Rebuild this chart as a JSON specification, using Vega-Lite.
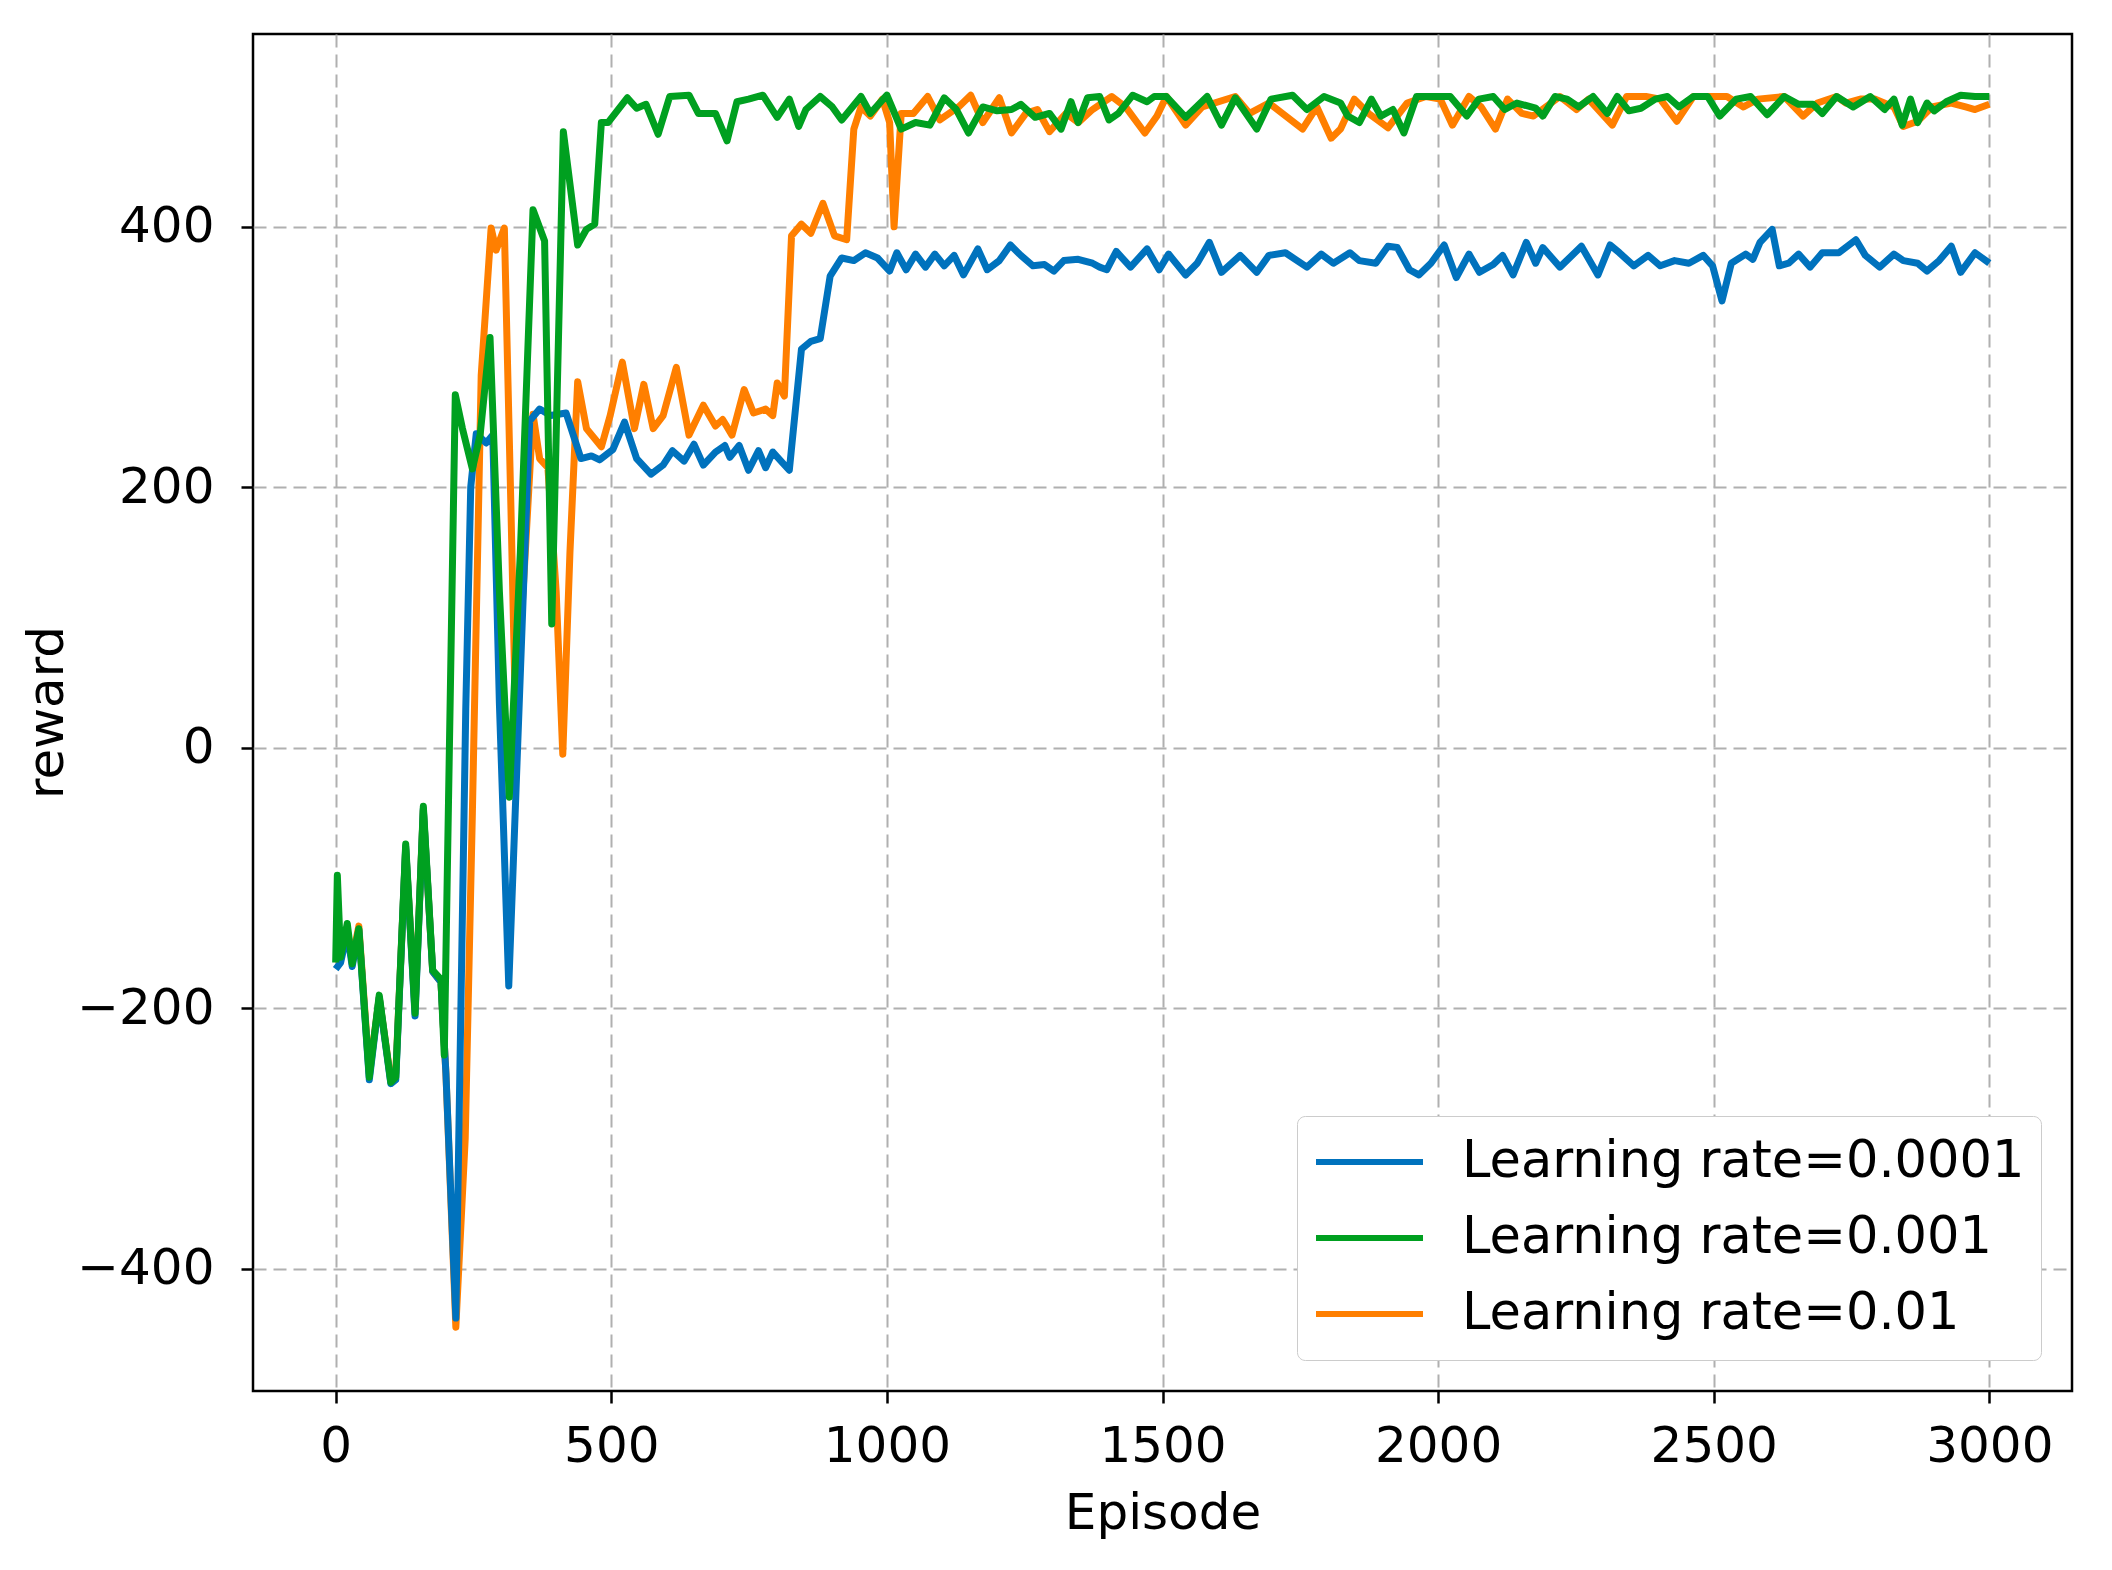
{
  "$schema": "https://vega.github.io/schema/vega-lite/v6.json",
  "width": 1819,
  "height": 1357,
  "autosize": {"type": "none"},
  "padding": {"left": 253, "top": 34, "right": 40, "bottom": 179},
  "background": "white",
  "config": {
    "view": {"stroke": "black", "strokeWidth": 2.5},
    "font": "DejaVu Sans",
    "axis": {
      "domain": false,
      "grid": true,
      "gridColor": "#b0b0b0",
      "gridDash": [13, 7],
      "gridWidth": 2,
      "ticks": true,
      "tickColor": "black",
      "tickWidth": 2.5,
      "tickSize": 12,
      "labelFont": "DejaVu Sans",
      "labelFontSize": 50,
      "labelColor": "black",
      "titleFont": "DejaVu Sans",
      "titleFontSize": 50,
      "titleFontWeight": "normal",
      "titleColor": "black"
    }
  },
  "datasets": {
    "lr0001": [
      {"e": 0, "r": -170}, {"e": 9, "r": -165}, {"e": 21, "r": -142}, {"e": 30, "r": -168}, {"e": 42, "r": -140},
      {"e": 61, "r": -255}, {"e": 79, "r": -192}, {"e": 100, "r": -258}, {"e": 109, "r": -255}, {"e": 127, "r": -76},
      {"e": 144, "r": -206}, {"e": 159, "r": -47}, {"e": 176, "r": -172}, {"e": 191, "r": -180}, {"e": 200, "r": -250},
      {"e": 218, "r": -438}, {"e": 236, "r": 30}, {"e": 245, "r": 200}, {"e": 255, "r": 241}, {"e": 273, "r": 234},
      {"e": 285, "r": 240}, {"e": 297, "r": 34}, {"e": 314, "r": -183}, {"e": 333, "r": 34}, {"e": 352, "r": 251},
      {"e": 370, "r": 260}, {"e": 390, "r": 255}, {"e": 418, "r": 257}, {"e": 445, "r": 222}, {"e": 464, "r": 224},
      {"e": 479, "r": 221}, {"e": 503, "r": 229}, {"e": 524, "r": 250}, {"e": 546, "r": 222}, {"e": 572, "r": 210},
      {"e": 594, "r": 217}, {"e": 611, "r": 228}, {"e": 632, "r": 220}, {"e": 650, "r": 233}, {"e": 667, "r": 217},
      {"e": 689, "r": 227}, {"e": 706, "r": 232}, {"e": 715, "r": 223}, {"e": 732, "r": 232}, {"e": 749, "r": 213},
      {"e": 767, "r": 228}, {"e": 780, "r": 215}, {"e": 793, "r": 227}, {"e": 823, "r": 213}, {"e": 845, "r": 306},
      {"e": 862, "r": 312}, {"e": 879, "r": 314}, {"e": 897, "r": 362}, {"e": 918, "r": 376}, {"e": 940, "r": 374},
      {"e": 961, "r": 380}, {"e": 983, "r": 376}, {"e": 1005, "r": 366}, {"e": 1018, "r": 380}, {"e": 1035, "r": 367},
      {"e": 1052, "r": 379}, {"e": 1070, "r": 369}, {"e": 1087, "r": 379}, {"e": 1104, "r": 370}, {"e": 1122, "r": 378},
      {"e": 1139, "r": 363}, {"e": 1165, "r": 383}, {"e": 1182, "r": 367}, {"e": 1204, "r": 374}, {"e": 1224, "r": 386},
      {"e": 1243, "r": 378}, {"e": 1265, "r": 370}, {"e": 1286, "r": 371}, {"e": 1303, "r": 366}, {"e": 1321, "r": 374},
      {"e": 1347, "r": 375}, {"e": 1373, "r": 372}, {"e": 1386, "r": 369}, {"e": 1399, "r": 367}, {"e": 1416, "r": 381},
      {"e": 1442, "r": 369}, {"e": 1472, "r": 383}, {"e": 1494, "r": 367}, {"e": 1511, "r": 379}, {"e": 1542, "r": 363},
      {"e": 1563, "r": 372}, {"e": 1585, "r": 388}, {"e": 1607, "r": 365}, {"e": 1641, "r": 378}, {"e": 1671, "r": 365},
      {"e": 1693, "r": 378}, {"e": 1723, "r": 380}, {"e": 1762, "r": 369}, {"e": 1788, "r": 379}, {"e": 1810, "r": 372},
      {"e": 1840, "r": 380}, {"e": 1857, "r": 374}, {"e": 1887, "r": 372}, {"e": 1909, "r": 385}, {"e": 1926, "r": 384},
      {"e": 1948, "r": 367}, {"e": 1965, "r": 363}, {"e": 1987, "r": 372}, {"e": 2011, "r": 386}, {"e": 2033, "r": 361},
      {"e": 2056, "r": 379}, {"e": 2075, "r": 365}, {"e": 2100, "r": 371}, {"e": 2117, "r": 378}, {"e": 2136, "r": 363},
      {"e": 2160, "r": 388}, {"e": 2177, "r": 372}, {"e": 2190, "r": 384}, {"e": 2221, "r": 369}, {"e": 2260, "r": 385},
      {"e": 2290, "r": 363}, {"e": 2312, "r": 386}, {"e": 2329, "r": 380}, {"e": 2355, "r": 370}, {"e": 2381, "r": 378},
      {"e": 2403, "r": 370}, {"e": 2429, "r": 374}, {"e": 2455, "r": 372}, {"e": 2481, "r": 378}, {"e": 2498, "r": 370},
      {"e": 2515, "r": 343}, {"e": 2532, "r": 372}, {"e": 2558, "r": 379}, {"e": 2571, "r": 375}, {"e": 2584, "r": 388},
      {"e": 2606, "r": 398}, {"e": 2619, "r": 370}, {"e": 2636, "r": 372}, {"e": 2654, "r": 379}, {"e": 2675, "r": 369},
      {"e": 2697, "r": 380}, {"e": 2727, "r": 380}, {"e": 2758, "r": 390}, {"e": 2775, "r": 378}, {"e": 2801, "r": 369},
      {"e": 2827, "r": 379}, {"e": 2844, "r": 374}, {"e": 2870, "r": 372}, {"e": 2887, "r": 366}, {"e": 2909, "r": 374},
      {"e": 2931, "r": 385}, {"e": 2948, "r": 365}, {"e": 2974, "r": 380}, {"e": 3000, "r": 372}
    ],
    "lr001": [
      {"e": 0, "r": -165}, {"e": 3, "r": -98}, {"e": 9, "r": -161}, {"e": 21, "r": -135}, {"e": 30, "r": -166},
      {"e": 42, "r": -139}, {"e": 61, "r": -253}, {"e": 79, "r": -190}, {"e": 100, "r": -257}, {"e": 109, "r": -253},
      {"e": 127, "r": -74}, {"e": 144, "r": -204}, {"e": 159, "r": -45}, {"e": 176, "r": -171}, {"e": 191, "r": -178},
      {"e": 197, "r": -236}, {"e": 217, "r": 271}, {"e": 230, "r": 245}, {"e": 248, "r": 214}, {"e": 262, "r": 240},
      {"e": 280, "r": 315}, {"e": 297, "r": 120}, {"e": 315, "r": -38}, {"e": 335, "r": 150}, {"e": 358, "r": 413},
      {"e": 379, "r": 389}, {"e": 392, "r": 95}, {"e": 413, "r": 473}, {"e": 439, "r": 386}, {"e": 455, "r": 398},
      {"e": 470, "r": 402}, {"e": 482, "r": 480}, {"e": 494, "r": 480}, {"e": 529, "r": 499}, {"e": 546, "r": 491},
      {"e": 563, "r": 494}, {"e": 585, "r": 471}, {"e": 606, "r": 500}, {"e": 641, "r": 501}, {"e": 658, "r": 487},
      {"e": 689, "r": 487}, {"e": 710, "r": 466}, {"e": 728, "r": 496}, {"e": 749, "r": 498}, {"e": 775, "r": 501},
      {"e": 801, "r": 484}, {"e": 823, "r": 498}, {"e": 840, "r": 477}, {"e": 853, "r": 490}, {"e": 879, "r": 500},
      {"e": 901, "r": 492}, {"e": 918, "r": 482}, {"e": 953, "r": 500}, {"e": 970, "r": 487}, {"e": 1000, "r": 501},
      {"e": 1026, "r": 475}, {"e": 1052, "r": 480}, {"e": 1078, "r": 478}, {"e": 1104, "r": 499}, {"e": 1126, "r": 490},
      {"e": 1148, "r": 472}, {"e": 1174, "r": 492}, {"e": 1200, "r": 489}, {"e": 1226, "r": 490}, {"e": 1243, "r": 494},
      {"e": 1269, "r": 484}, {"e": 1295, "r": 487}, {"e": 1316, "r": 475}, {"e": 1334, "r": 496}, {"e": 1347, "r": 480},
      {"e": 1364, "r": 499}, {"e": 1386, "r": 500}, {"e": 1403, "r": 482}, {"e": 1420, "r": 487}, {"e": 1446, "r": 501},
      {"e": 1472, "r": 496}, {"e": 1485, "r": 500}, {"e": 1507, "r": 500}, {"e": 1542, "r": 484}, {"e": 1581, "r": 500},
      {"e": 1607, "r": 478}, {"e": 1632, "r": 499}, {"e": 1671, "r": 475}, {"e": 1697, "r": 498}, {"e": 1736, "r": 501},
      {"e": 1762, "r": 490}, {"e": 1793, "r": 500}, {"e": 1823, "r": 495}, {"e": 1836, "r": 485}, {"e": 1857, "r": 480},
      {"e": 1879, "r": 498}, {"e": 1896, "r": 485}, {"e": 1918, "r": 490}, {"e": 1938, "r": 472}, {"e": 1961, "r": 500},
      {"e": 1996, "r": 500}, {"e": 2022, "r": 500}, {"e": 2052, "r": 485}, {"e": 2074, "r": 498}, {"e": 2100, "r": 500},
      {"e": 2121, "r": 490}, {"e": 2143, "r": 495}, {"e": 2177, "r": 491}, {"e": 2190, "r": 485}, {"e": 2212, "r": 500},
      {"e": 2234, "r": 498}, {"e": 2255, "r": 492}, {"e": 2281, "r": 500}, {"e": 2307, "r": 487}, {"e": 2325, "r": 500},
      {"e": 2346, "r": 489}, {"e": 2368, "r": 491}, {"e": 2394, "r": 498}, {"e": 2416, "r": 500}, {"e": 2437, "r": 492},
      {"e": 2463, "r": 500}, {"e": 2489, "r": 500}, {"e": 2511, "r": 485}, {"e": 2541, "r": 498}, {"e": 2567, "r": 500},
      {"e": 2597, "r": 486}, {"e": 2628, "r": 500}, {"e": 2654, "r": 494}, {"e": 2680, "r": 494}, {"e": 2697, "r": 487},
      {"e": 2723, "r": 500}, {"e": 2753, "r": 492}, {"e": 2784, "r": 500}, {"e": 2810, "r": 490}, {"e": 2827, "r": 498},
      {"e": 2842, "r": 478}, {"e": 2857, "r": 498}, {"e": 2870, "r": 480}, {"e": 2887, "r": 495}, {"e": 2900, "r": 489},
      {"e": 2922, "r": 496}, {"e": 2948, "r": 501}, {"e": 2974, "r": 500}, {"e": 3000, "r": 500}
    ],
    "lr01": [
      {"e": 0, "r": -165}, {"e": 9, "r": -160}, {"e": 21, "r": -140}, {"e": 30, "r": -162}, {"e": 42, "r": -137},
      {"e": 61, "r": -250}, {"e": 79, "r": -192}, {"e": 100, "r": -255}, {"e": 109, "r": -250}, {"e": 127, "r": -78},
      {"e": 144, "r": -200}, {"e": 159, "r": -48}, {"e": 176, "r": -172}, {"e": 191, "r": -180}, {"e": 200, "r": -250},
      {"e": 218, "r": -445}, {"e": 235, "r": -300}, {"e": 248, "r": -50}, {"e": 264, "r": 286}, {"e": 282, "r": 399},
      {"e": 291, "r": 382}, {"e": 306, "r": 399}, {"e": 318, "r": 183}, {"e": 326, "r": 28}, {"e": 340, "r": 120},
      {"e": 358, "r": 256}, {"e": 370, "r": 222}, {"e": 385, "r": 215}, {"e": 400, "r": 120}, {"e": 412, "r": -5},
      {"e": 425, "r": 150}, {"e": 439, "r": 281}, {"e": 455, "r": 245}, {"e": 482, "r": 231}, {"e": 498, "r": 255},
      {"e": 520, "r": 296}, {"e": 542, "r": 245}, {"e": 559, "r": 279}, {"e": 576, "r": 245}, {"e": 594, "r": 255},
      {"e": 618, "r": 292}, {"e": 641, "r": 240}, {"e": 667, "r": 263}, {"e": 689, "r": 247}, {"e": 702, "r": 252},
      {"e": 719, "r": 240}, {"e": 741, "r": 275}, {"e": 758, "r": 257}, {"e": 780, "r": 260}, {"e": 793, "r": 255},
      {"e": 801, "r": 280}, {"e": 814, "r": 270}, {"e": 827, "r": 393}, {"e": 845, "r": 402}, {"e": 862, "r": 395},
      {"e": 884, "r": 418}, {"e": 905, "r": 393}, {"e": 927, "r": 390}, {"e": 940, "r": 475}, {"e": 953, "r": 492},
      {"e": 970, "r": 485}, {"e": 992, "r": 498}, {"e": 1005, "r": 480}, {"e": 1013, "r": 400}, {"e": 1026, "r": 487},
      {"e": 1048, "r": 487}, {"e": 1074, "r": 500}, {"e": 1096, "r": 482}, {"e": 1130, "r": 492}, {"e": 1152, "r": 501},
      {"e": 1174, "r": 480}, {"e": 1204, "r": 499}, {"e": 1226, "r": 472}, {"e": 1252, "r": 487}, {"e": 1273, "r": 490},
      {"e": 1295, "r": 473}, {"e": 1325, "r": 487}, {"e": 1347, "r": 480}, {"e": 1373, "r": 490}, {"e": 1408, "r": 500},
      {"e": 1433, "r": 492}, {"e": 1468, "r": 472}, {"e": 1490, "r": 485}, {"e": 1507, "r": 500}, {"e": 1542, "r": 478},
      {"e": 1572, "r": 492}, {"e": 1632, "r": 500}, {"e": 1658, "r": 487}, {"e": 1693, "r": 495}, {"e": 1754, "r": 475},
      {"e": 1780, "r": 492}, {"e": 1806, "r": 468}, {"e": 1823, "r": 475}, {"e": 1848, "r": 498}, {"e": 1874, "r": 487},
      {"e": 1909, "r": 476}, {"e": 1944, "r": 495}, {"e": 1978, "r": 500}, {"e": 2004, "r": 498}, {"e": 2026, "r": 478},
      {"e": 2056, "r": 500}, {"e": 2078, "r": 492}, {"e": 2104, "r": 475}, {"e": 2126, "r": 498}, {"e": 2152, "r": 487},
      {"e": 2173, "r": 485}, {"e": 2221, "r": 500}, {"e": 2251, "r": 490}, {"e": 2273, "r": 498}, {"e": 2316, "r": 478},
      {"e": 2342, "r": 500}, {"e": 2377, "r": 500}, {"e": 2403, "r": 498}, {"e": 2433, "r": 481}, {"e": 2463, "r": 500},
      {"e": 2498, "r": 500}, {"e": 2524, "r": 500}, {"e": 2554, "r": 492}, {"e": 2580, "r": 498}, {"e": 2628, "r": 500},
      {"e": 2662, "r": 485}, {"e": 2688, "r": 495}, {"e": 2723, "r": 500}, {"e": 2740, "r": 495}, {"e": 2766, "r": 498},
      {"e": 2792, "r": 498}, {"e": 2827, "r": 492}, {"e": 2844, "r": 477}, {"e": 2870, "r": 481}, {"e": 2896, "r": 492},
      {"e": 2931, "r": 495}, {"e": 2957, "r": 492}, {"e": 2974, "r": 490}, {"e": 3000, "r": 494}
    ]
  },
  "encoding": {
    "x": {
      "field": "e",
      "type": "quantitative",
      "title": "Episode",
      "scale": {"domain": [-150, 3150], "nice": false, "zero": false},
      "axis": {"values": [0, 500, 1000, 1500, 2000, 2500, 3000], "format": "d", "labelPadding": 18, "titleY": 122, "titleBaseline": "middle"}
    },
    "y": {
      "field": "r",
      "type": "quantitative",
      "title": "reward",
      "scale": {"domain": [-494, 548], "nice": false, "zero": false},
      "axis": {"values": [-400, -200, 0, 200, 400], "labelPadding": 27, "titleX": -206, "titleY": 678, "titleAngle": 270, "titleAlign": "center", "titleBaseline": "middle"}
    }
  },
  "layer": [
    {
      "data": {"name": "lr01"},
      "mark": {"type": "line", "strokeWidth": 7, "strokeJoin": "round"},
      "encoding": {
        "color": {
          "datum": "Learning rate=0.01",
          "type": "nominal",
          "scale": {
            "domain": ["Learning rate=0.0001", "Learning rate=0.001", "Learning rate=0.01"],
            "range": ["#0072bd", "#00a020", "#ff7f00"]
          },
          "legend": {
            "orient": "none",
            "legendX": 1044,
            "legendY": 1082,
            "title": null,
            "symbolType": "stroke",
            "symbolSize": 11449,
            "symbolStrokeWidth": 6,
            "labelFont": "DejaVu Sans",
            "labelFontSize": 51,
            "labelColor": "black",
            "labelLimit": 1000,
            "labelOffset": 36,
            "padding": 16,
            "fillColor": "white",
            "strokeColor": "#cccccc",
            "cornerRadius": 8,
            "rowPadding": 16,
            "clipHeight": 60
          }
        }
      }
    },
    {
      "data": {"name": "lr0001"},
      "mark": {"type": "line", "strokeWidth": 7, "strokeJoin": "round"},
      "encoding": {"color": {"datum": "Learning rate=0.0001", "type": "nominal"}}
    },
    {
      "data": {"name": "lr001"},
      "mark": {"type": "line", "strokeWidth": 7, "strokeJoin": "round"},
      "encoding": {"color": {"datum": "Learning rate=0.001", "type": "nominal"}}
    }
  ]
}
